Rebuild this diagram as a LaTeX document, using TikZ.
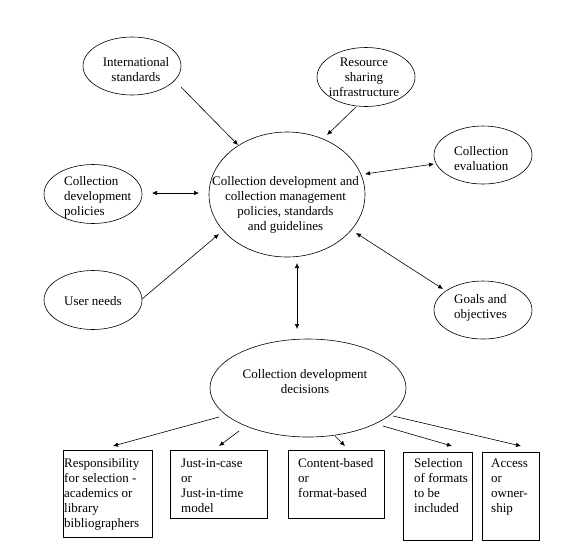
\documentclass[tikz,border=0pt]{standalone}
\usepackage{fontspec}
\setmainfont{Liberation Serif}
\usetikzlibrary{shapes.geometric,arrows.meta}
\begin{document}
\begin{tikzpicture}[x=1pt,y=-1pt,
  oval/.style={draw,ellipse,line width=0.6pt,inner sep=0pt},
  txt/.style={inner sep=0pt,font=\fontsize{13}{15}\selectfont,execute at begin node=\strut,execute at end node=\strut},
  boxn/.style={draw,line width=0.7pt,anchor=north west,inner sep=0pt},
  arr/.style={line width=0.6pt,-{Latex[length=5pt,width=4.5pt]}},
  darr/.style={line width=0.6pt,{Latex[length=5pt,width=4.5pt]}-{Latex[length=5pt,width=4.5pt]}}]
\useasboundingbox (0,0) rectangle (572,547);
\fill[white] (0,0) rectangle (572,547);
% ellipses
\node[oval,minimum width=98pt,minimum height=58pt] (intl) at (132,66) {};
\node[oval,minimum width=98pt,minimum height=59pt] (res) at (366,77) {};
\node[oval,minimum width=156pt,minimum height=125pt] (cen) at (287,194.5) {};
\node[oval,minimum width=98pt,minimum height=58pt] (eval) at (483,155) {};
\node[oval,minimum width=98pt,minimum height=59pt] (pol) at (93,194) {};
\node[oval,minimum width=98pt,minimum height=59pt] (user) at (93,300) {};
\node[oval,minimum width=98pt,minimum height=58pt] (goals) at (483,310) {};
\node[oval,minimum width=196pt,minimum height=98pt] (dec) at (308,388) {};
% ellipse texts
\node[txt,align=center] (intlt) at (136,72) {International\\ standards};
\node[txt,align=center] (rest) at (364,79) {Resource\\sharing\\infrastructure};
\node[txt,align=center] (cent) at (285.5,206) {Collection development and\\collection management\\policies, standards\\and guidelines};
\node[txt,align=left,anchor=west] (evalt) at (454,160.5) {Collection\\evaluation};
\node[txt,align=left,anchor=west] (polt) at (64,198) {Collection\\development\\policies};
\node[txt,align=left,anchor=west] (usert) at (64,302) {User needs};
\node[txt,align=left,anchor=west] (goalst) at (454,308.5) {Goals and\\objectives};
\node[txt,align=center] (dect) at (305,383.5) {Collection development\\decisions};
% boxes
\node[boxn,minimum width=89pt,minimum height=87pt] (b1) at (63,450) {};
\node[boxn,minimum width=97pt,minimum height=68pt] (b2) at (170,450) {};
\node[boxn,minimum width=96pt,minimum height=68pt] (b3) at (288,450) {};
\node[boxn,minimum width=69pt,minimum height=88pt] (b4) at (403,452) {};
\node[boxn,minimum width=57pt,minimum height=88pt] (b5) at (482,452) {};
\node[txt,align=left,anchor=north west] (b1t) at (64,458.5) {Responsibility\\for selection -\\academics or\\library\\bibliographers};
\node[txt,align=left,anchor=north west] (b2t) at (181,458.5) {Just-in-case\\or\\Just-in-time\\model};
\node[txt,align=left,anchor=north west] (b3t) at (298,458.5) {Content-based\\or\\format-based};
\node[txt,align=left,anchor=north west] (b4t) at (414,458.5) {Selection\\of formats\\to be\\included};
\node[txt,align=left,anchor=north west] (b5t) at (491,458.5) {Access\\or\\owner-\\ship};
% connector ends
\coordinate (i1) at (181,87);   \coordinate (i2) at (238,145);
\coordinate (r1) at (356,107);  \coordinate (r2) at (327,135);
\coordinate (e1) at (365,174);  \coordinate (e2) at (434,164);
\coordinate (p1) at (152,193);  \coordinate (p2) at (199,193);
\coordinate (u1) at (142,299);  \coordinate (u2) at (219,234);
\coordinate (g1) at (356,233);  \coordinate (g2) at (443,289);
\coordinate (c1) at (297,263);  \coordinate (c2) at (297,329);
\coordinate (d1a) at (219,417); \coordinate (d1b) at (113,446);
\coordinate (d2a) at (239,431); \coordinate (d2b) at (219,446);
\coordinate (d3a) at (335,436); \coordinate (d3b) at (345,446);
\coordinate (d4a) at (383,426); \coordinate (d4b) at (452,446);
\coordinate (d5a) at (393,416); \coordinate (d5b) at (521,446);
% connectors
\draw[arr] (i1) -- (i2);
\draw[arr] (r1) -- (r2);
\draw[darr] (e1) -- (e2);
\draw[darr] (p1) -- (p2);
\draw[arr] (u1) -- (u2);
\draw[darr] (g1) -- (g2);
\draw[darr] (c1) -- (c2);
\draw[arr] (d1a) -- (d1b);
\draw[arr] (d2a) -- (d2b);
\draw[arr] (d3a) -- (d3b);
\draw[arr] (d4a) -- (d4b);
\draw[arr] (d5a) -- (d5b);
\end{tikzpicture}
\end{document}
